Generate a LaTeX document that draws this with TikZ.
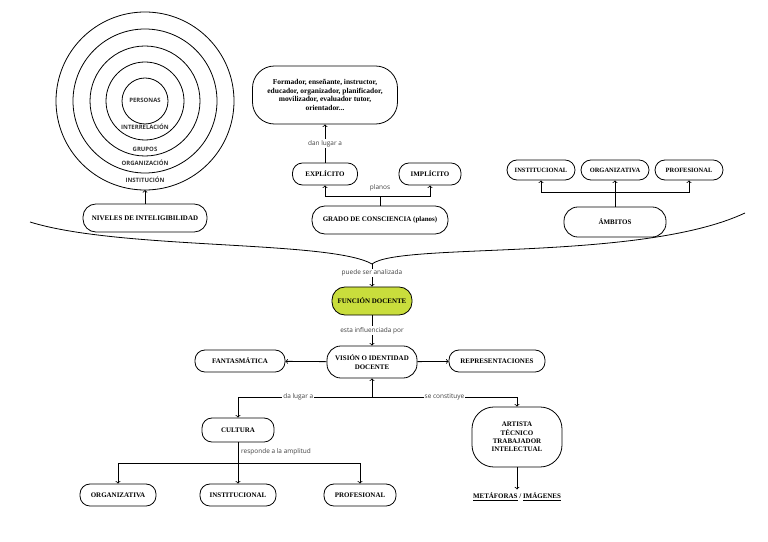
\documentclass[tikz,border=0pt]{standalone}
\usepackage{fontspec}
\setmainfont{Liberation Serif}
\newfontfamily\lblfont{Open Sans}
\usetikzlibrary{positioning}
\tikzset{
  box/.style={draw, rounded corners=10pt, line width=0.8pt, align=center,
    font=\fontsize{7}{8.5}\selectfont\bfseries, minimum height=22bp, inner sep=2pt},
  lbl/.style={fill=white, inner sep=1pt, font=\lblfont\fontsize{6.5}{8}\selectfont, text=black!75},
  ring/.style={font=\lblfont\fontsize{6}{7}\selectfont\bfseries, text=black!80},
  conn/.style={line width=0.8pt, ->}
}
\definecolor{verdefun}{HTML}{C9DD3C}
\begin{document}
\begin{tikzpicture}[x=1bp, y=-1bp]
            \useasboundingbox (0,0) rectangle (768,542);
            
            % Drawing levels circles
            \foreach \r in {23,39,55,72,89}
              \draw [line width=0.8pt] (145,101) circle (\r);
            \node [ring] (personas) at (145,100) {PERSONAS};
            \node [ring] (interrel) at (145,127) {INTERRELACIÓN};
            \node [ring] (grupos) at (145,149) {GRUPOS};
            \node [ring] (organiz) at (145,163) {ORGANIZACIÓN};
            \node [ring] (instit) at (145,180) {INSTITUCIÓN};
            \coordinate (ringbot) at (145,190);
            
            % Marking niveles
            \node [box, minimum width=124bp, minimum height=28bp, rounded corners=13pt] (niveles) at (145,218) {NIVELES DE INTELIGIBILIDAD};
            \draw [conn] (niveles) -- (ringbot);
            
            % Drawing grado de consciencia
            \node [box, minimum width=145bp, minimum height=58bp, rounded corners=22pt,
              font=\fontsize{7.5}{8.5}\selectfont\bfseries] (roles) at (325,95)
              {Formador, enseñante, instructor,\\ educador, organizador, planificador,\\ movilizador, evaluador tutor,\\ orientador...};
            \node [box, minimum width=65bp] (explicito) at (325,174) {EXPLÍCITO};
            \node [box, minimum width=62bp] (implicito) at (430,174) {IMPLÍCITO};
            \node [box, minimum width=136bp, minimum height=28bp, rounded corners=13pt] (grado) at (380,220) {GRADO DE CONSCIENCIA (planos)};
            \draw [conn] (explicito) -- node [lbl] {dan lugar a} (roles);
            \draw [line width=0.8pt] (grado.north) -- (380,196) coordinate (split);
            \draw [conn] (split) -| (explicito.south);
            \draw [conn] (split) -| (implicito.south);
            \node [lbl, fill=none] at (380,188) {planos};
            
            % Drawing ambitos
            \node [box, minimum width=68bp, minimum height=20bp, font=\fontsize{6.5}{8}\selectfont\bfseries] (a_inst) at (541,170) {INSTITUCIONAL};
            \node [box, minimum width=68bp, minimum height=20bp, font=\fontsize{6.5}{8}\selectfont\bfseries] (a_org) at (615,170) {ORGANIZATIVA};
            \node [box, minimum width=68bp, minimum height=20bp, font=\fontsize{6.5}{8}\selectfont\bfseries] (a_prof) at (689,170) {PROFESIONAL};
            \node [box, minimum width=102bp, minimum height=30bp, rounded corners=14pt] (ambitos) at (615,222) {ÁMBITOS};
            \draw [line width=0.8pt] (ambitos.north) -- (615,192) coordinate (asplit);
            \draw [conn] (asplit) -| (a_inst.south);
            \draw [conn] (asplit) -- (a_org.south);
            \draw [conn] (asplit) -| (a_prof.south);
            
            % Drawing brace
            \coordinate (cusp) at (372,264);
            \draw [line width=0.8pt] (30,222) .. controls (120,250) and (330,240) .. (cusp);
            \draw [line width=0.8pt] (cusp) .. controls (400,242) and (640,262) .. (745,213);
            
            % Drawing funcion docente
            \node [box, fill=verdefun, minimum width=80bp, minimum height=28bp, rounded corners=13pt] (funcion) at (372,301) {FUNCIÓN DOCENTE};
            \draw [conn] (cusp) -- node [lbl, pos=0.4] {puede ser analizada} (funcion);
            \node [box, minimum width=90bp, minimum height=32bp, rounded corners=14pt] (vision) at (372,362) {VISIÓN O IDENTIDAD\\ DOCENTE};
            \draw [conn] (funcion) -- node [lbl] {esta influenciada por} (vision);
            \node [box, minimum width=90bp] (fantas) at (240,361) {FANTASMÁTICA};
            \node [box, minimum width=96bp] (repres) at (497,361) {REPRESENTACIONES};
            \draw [conn] (vision) -- (fantas);
            \draw [conn] (vision) -- (repres);
            
            % Drawing lower branches
            \node [box, minimum width=72bp, minimum height=24bp] (cultura) at (238,430) {CULTURA};
            \node [box, minimum width=90bp, minimum height=60bp, rounded corners=22pt] (artista) at (517,437) {ARTISTA\\ TÉCNICO\\ TRABAJADOR\\ INTELECTUAL};
            \coordinate (vsplit) at (372,397);
            \draw [conn] (vsplit) -- (vision);
            \draw [conn] (vsplit) -- node [lbl, pos=0.55] {da lugar a} (238,397) -- (cultura);
            \draw [conn] (vsplit) -- node [lbl, pos=0.5] {se constituye} (517,397) -- (artista);
            \node (metaforas) at (517,497) {\fontsize{7}{8}\selectfont\bfseries\underline{METÁFORAS} / \underline{IMÁGENES}};
            \draw [conn] (artista) -- (metaforas);
            
            % Drawing cultura children
            \node [box, minimum width=76bp] (c_org) at (118,495) {ORGANIZATIVA};
            \node [box, minimum width=76bp] (c_inst) at (238,495) {INSTITUCIONAL};
            \node [box, minimum width=72bp] (c_prof) at (360,495) {PROFESIONAL};
            \draw [conn] (cultura) -- (c_inst);
            \draw [line width=0.8pt] (118,463) -- (360,463);
            \draw [conn] (118,463) -- (c_org);
            \draw [conn] (360,463) -- (c_prof);
            \node [lbl, anchor=west, fill=white] at (240,452) {responde a la amplitud};
\end{tikzpicture}
\end{document}
